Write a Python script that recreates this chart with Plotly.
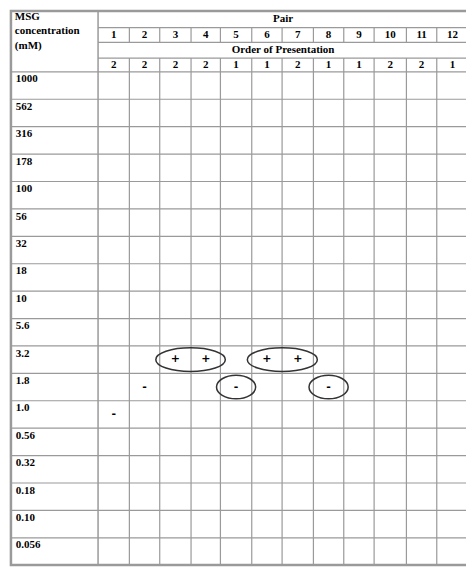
import plotly.graph_objects as go

concentrations = ["1000","562","316","178","100","56","32","18","10","5.6","3.2","1.8","1.0","0.56","0.32","0.18","0.10","0.056"]
pairs = [1,2,3,4,5,6,7,8,9,10,11,12]
order = [2,2,2,2,1,1,2,1,1,2,2,1]
# responses: (concentration, pair, mark)
responses = [("3.2",3,"+"),("3.2",4,"+"),("3.2",6,"+"),("3.2",7,"+"),
             ("1.8",2,"-"),("1.8",5,"-"),("1.8",8,"-"),("1.0",1,"-")]
# circled groups: (concentration, first pair, last pair)
circles = [("3.2",3,4),("3.2",6,7),("1.8",5,5),("1.8",8,8)]

W, H = 474, 569
colx = [92,124,155,187,217,249,280,312,343,374,407,438,470]
top0, rowh = 65, 27.9
rowy = [top0 + i*rowh for i in range(len(concentrations))] + [567]
LINE = "#9a9a9a"
FONT = dict(family="Liberation Serif", size=11, color="black")

fig = go.Figure()
shapes = []
def hline(x0,x1,y,w=1.2):
    shapes.append(dict(type="line",x0=x0,x1=x1,y0=y,y1=y,line=dict(color=LINE,width=w)))
def vline(x,y0,y1,w=1.2):
    shapes.append(dict(type="line",x0=x,x1=x,y0=y0,y1=y1,line=dict(color=LINE,width=w)))

shapes.append(dict(type="rect",x0=3,x1=470,y0=3,y1=567,line=dict(color=LINE,width=2.5)))
vline(92,3,567,1.5)
hline(92,470,20); hline(92,470,35); hline(92,470,51)
for y in rowy[:-1]:
    hline(3,470,y)
for x in colx[1:-1]:
    vline(x,20,35); vline(x,51,567)

def mid(c): return (colx[c-1]+colx[c])/2
def rmid(lbl):
    i = concentrations.index(lbl); return (rowy[i]+rowy[i+1])/2

for (lbl,a,b) in circles:
    cx0, cx1 = mid(a), mid(b)
    yc = rmid(lbl)
    shapes.append(dict(type="circle",x0=cx0-20,x1=cx1+20,y0=yc-12,y1=yc+12,
                       line=dict(color="#333",width=1.5)))

tx, ty, tt = [], [], []
tx += [mid(p) for p in pairs]; ty += [27.5]*12; tt += [f"<b>{p}</b>" for p in pairs]
tx += [mid(p) for p in pairs]; ty += [58]*12; tt += [f"<b>{o}</b>" for o in order]
tx += [281, 281]; ty += [11.5, 43]; tt += ["<b>Pair</b>", "<b>Order of Presentation</b>"]
fig.add_trace(go.Scatter(x=tx,y=ty,text=tt,mode="text",textfont=FONT,hoverinfo="skip"))

lx = [8]*len(concentrations)
ly = [rowy[i]+8 for i in range(len(concentrations))]
fig.add_trace(go.Scatter(x=lx,y=ly,text=[f"<b>{c}</b>" for c in concentrations],mode="text",
                         textposition="middle right",textfont=FONT,hoverinfo="skip"))
fig.add_trace(go.Scatter(x=[7],y=[24],text=["<b>MSG<br>concentration<br>(mM)</b>"],mode="text",
                         textposition="middle right",textfont=FONT,hoverinfo="skip"))

fig.add_trace(go.Scatter(x=[mid(p) for _,p,_ in responses],y=[rmid(l) for l,_,_ in responses],
                         text=[f"<b>{m}</b>" for *_,m in responses],mode="text",
                         textfont=dict(family="DejaVu Sans",size=11,color="black"),hoverinfo="skip"))

fig.update_layout(width=W-10,height=H-10,margin=dict(l=0,r=0,t=0,b=0),showlegend=False,
                  plot_bgcolor="white",paper_bgcolor="white",shapes=shapes,
                  xaxis=dict(range=[0,W],visible=False,fixedrange=True),
                  yaxis=dict(range=[H,0],visible=False,fixedrange=True))
fig.write_html("out.html", config={"displayModeBar": False})
